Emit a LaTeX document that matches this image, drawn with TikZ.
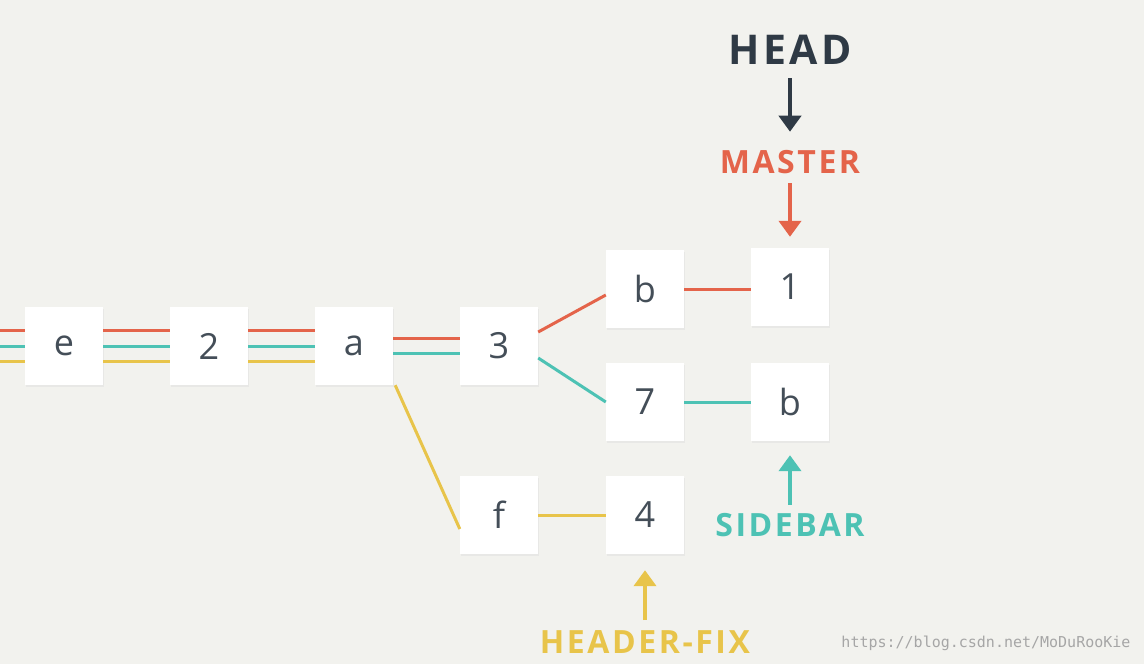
\documentclass[tikz,border=0pt]{standalone}
\usepackage{fontspec}
\setmainfont{Open Sans}
\newfontfamily\lbl[LetterSpace=8]{Open Sans Bold}
\newfontfamily\wm{DejaVu Sans Mono}
\usetikzlibrary{arrows.meta,shadows}
\definecolor{bgc}{HTML}{F2F2EE}
\definecolor{cr}{HTML}{E4644A}
\definecolor{ct}{HTML}{4DC2B4}
\definecolor{cy}{HTML}{E8C44A}
\definecolor{cd}{HTML}{2F3A45}
\tikzset{
  commit/.style={fill=white,minimum width=78pt,minimum height=78pt,inner sep=0pt,
    font=\fontsize{36}{36}\selectfont,text=cd!90,
    drop shadow={shadow xshift=1pt,shadow yshift=-2pt,fill=black!12}},
  ln/.style={line width=3pt},
  arr/.style={line width=4pt,-{Triangle[length=16pt,width=22pt]}},
  lab/.style={font=\lbl\fontsize{32}{32}\selectfont}
}
\begin{document}
\begin{tikzpicture}[x=1pt,y=-1pt]
\fill[bgc] (0,0) rectangle (1144,664);
\useasboundingbox (0,0) rectangle (1144,664);
\node[commit] (e) at (64,346) {e};
\node[commit] (n2) at (209,346) {2};
\node[commit] (a) at (354,346) {a};
\node[commit] (n3) at (499,346) {3};
\node[commit] (b1) at (645,289) {b};
\node[commit] (n1) at (790,287) {1};
\node[commit] (n7) at (645,402) {7};
\node[commit] (b2) at (790,402) {b};
\node[commit] (f) at (499,515) {f};
\node[commit] (n4) at (645,515) {4};
\coordinate (lr) at (0,330);
\coordinate (lt) at (0,346);
\coordinate (ly) at (0,361);
\draw[ln,cr] (lr) -- ([yshift=16pt]e.west);
\draw[ln,ct] (lt) -- (e.west);
\draw[ln,cy] (ly) -- ([yshift=-15pt]e.west);
\draw[ln,cr] ([yshift=16pt]e.east) -- ([yshift=16pt]n2.west);
\draw[ln,ct] (e.east) -- (n2.west);
\draw[ln,cy] ([yshift=-15pt]e.east) -- ([yshift=-15pt]n2.west);
\draw[ln,cr] ([yshift=16pt]n2.east) -- ([yshift=16pt]a.west);
\draw[ln,ct] (n2.east) -- (a.west);
\draw[ln,cy] ([yshift=-15pt]n2.east) -- ([yshift=-15pt]a.west);
\draw[ln,cr] ([yshift=8pt]a.east) -- ([yshift=8pt]n3.west);
\draw[ln,ct] ([yshift=-7pt]a.east) -- ([yshift=-7pt]n3.west);
\draw[ln,cy] ([xshift=2pt]a.south east) -- ([yshift=-14pt]f.west);
\draw[ln,cr] ([yshift=14pt]n3.east) -- ([yshift=-6pt]b1.west);
\draw[ln,ct] ([yshift=-12pt]n3.east) -- (n7.west);
\draw[ln,cr] (b1.east) -- (b1.east -| n1.west);
\draw[ln,ct] (n7.east) -- (b2.west);
\draw[ln,cy] (f.east) -- (n4.west);
\node[lab,text=cd,font=\lbl\fontsize{41}{41}\selectfont] (head) at (790,50) {HEAD};
\node[lab,text=cr] (master) at (790,162) {MASTER};
\node[lab,text=ct] (sidebar) at (790,525) {SIDEBAR};
\node[lab,text=cy] (hfix) at (645,642) {HEADER-FIX};
\draw[arr,cd,shorten <=10pt] (head.south) -- ([yshift=15pt]master.north);
\draw[arr,cr,shorten <=6pt] (master.south) -- ([yshift=11pt]n1.north);
\draw[arr,ct,shorten <=5pt] (sidebar.north) -- ([yshift=-14pt]b2.south);
\draw[arr,cy,shorten <=7pt] (hfix.north) -- ([yshift=-16pt]n4.south);
\node[font=\wm\fontsize{15}{15}\selectfont,text=black!35,anchor=east] (wmk) at (1134,643) {https://blog.csdn.net/MoDuRooKie};
\end{tikzpicture}
\end{document}
